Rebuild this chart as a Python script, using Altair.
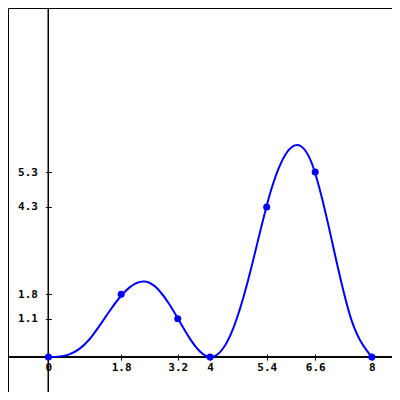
import altair as alt
import pandas as pd

# sample points (markers)
xs = [0, 1.8, 3.2, 4, 5.4, 6.6, 8]
ys = [0, 1.8, 1.1, 0, 4.3, 5.3, 0]
# curve values
cx = [0, 0.5, 1, 1.5, 2, 2.5, 3, 3.5, 4, 4.5, 5, 5.5, 6, 6.5, 7, 7.5, 8]
cy = [0, 0.07, 0.49, 1.3, 1.99, 2.13, 1.5, 0.53, 0, 0.62, 2.47, 4.75, 6.0, 5.6, 3.4, 1.05, 0]
x_ticks = [0, 1.8, 3.2, 4, 5.4, 6.6, 8]
y_ticks = [1.1, 1.8, 4.3, 5.3]

XMIN, XMAX = -1, 8.5
YMIN, YMAX = -1, 10
W, H = 384, 384

pts_df = pd.DataFrame({"x": xs, "y": ys})
curve_df = pd.DataFrame({"x": cx, "y": cy})

xsc = alt.Scale(domain=[XMIN, XMAX], nice=False, zero=False)
ysc = alt.Scale(domain=[YMIN, YMAX], nice=False, zero=False)

x_off = -(H * (0 - YMIN) / (YMAX - YMIN)) - 3
y_off = -(W * (0 - XMIN) / (XMAX - XMIN)) - 3

font = "DejaVu Sans Mono"

xaxis = alt.Axis(values=x_ticks, format=".2~f", grid=False, domain=False, title=None,
                 offset=x_off, tickSize=6, tickColor="black", labelPadding=1,
                 labelFont=font, labelFontWeight="bold", labelFontSize=11, labelColor="black")
yaxis = alt.Axis(values=y_ticks, format=".2~f", grid=False, domain=False, title=None,
                 offset=y_off, tickSize=6, tickColor="black", labelPadding=8,
                 labelFont=font, labelFontWeight="bold", labelFontSize=11, labelColor="black")

X = alt.X("x:Q", scale=xsc, axis=xaxis)
Y = alt.Y("y:Q", scale=ysc, axis=yaxis)

hrule = alt.Chart(pts_df).mark_rule(color="black", strokeWidth=1).encode(
    y=alt.datum(0, scale=ysc, axis=yaxis))
vrule = alt.Chart(pts_df).mark_rule(color="black", strokeWidth=1).encode(
    x=alt.datum(0, scale=xsc, axis=xaxis))

line = alt.Chart(curve_df).mark_line(color="blue", strokeWidth=2, interpolate="natural").encode(x=X, y=Y)
pts = alt.Chart(pts_df).mark_circle(color="blue", size=50, opacity=1).encode(x=X, y=Y)

chart = alt.layer(hrule, vrule, line, pts).properties(
    width=W, height=H,
    autosize=alt.AutoSizeParams(type="none"),
    padding=0,
).configure_view(stroke="black", strokeWidth=1)

chart.save("out.html", embed_options={"renderer": "svg", "actions": False})
